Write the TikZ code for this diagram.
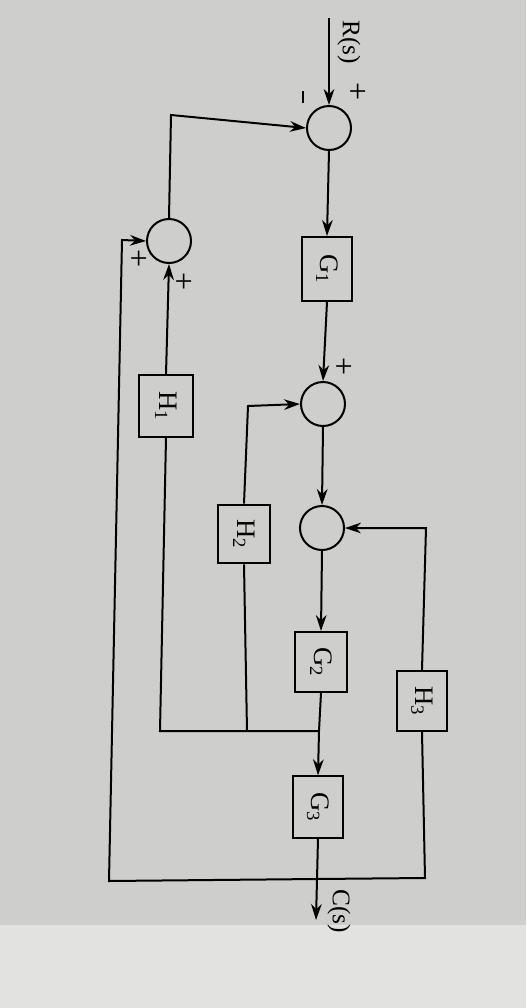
\documentclass[tikz,border=0pt]{standalone}
\usepackage{fontspec}
\setmainfont{Liberation Serif}
\usetikzlibrary{arrows.meta}
\definecolor{paper}{RGB}{206,206,204}
\definecolor{paperlight}{RGB}{226,226,224}
\begin{document}
\begin{tikzpicture}[x=0.75pt,y=-0.75pt,
  line width=1.5pt,
  arr/.style={-{Stealth[length=12pt,width=8pt]}},
  blk/.style={draw, line width=1.5pt, inner sep=0pt, font=\fontsize{20}{20}\selectfont},
  sumj/.style={draw, circle, line width=1.5pt, minimum size=33pt, inner sep=0pt},
  lbl/.style={rotate=-90, inner sep=0pt, font=\fontsize{19}{19}\selectfont},
  sgn/.style={rotate=-90, inner sep=0pt, font=\fontsize{24}{24}\selectfont}]
\fill[paper] (0,0) rectangle (526,1008);
\fill[paperlight] (0,925) rectangle (526,1008);
\useasboundingbox (0,0) rectangle (526,1008);
% summing junctions
\node[sumj] (s1) at (329,128) {};
\node[sumj] (s2) at (169,241) {};
\node[sumj] (s3) at (323,404) {};
\node[sumj] (s4) at (322,528) {};
% blocks
\node[blk, minimum width=37.5pt, minimum height=48pt] (G1) at (327,269) {\rotatebox{-90}{G\textsubscript{1}}};
\node[blk, minimum width=40pt, minimum height=46pt] (H1) at (166,406) {\rotatebox{-90}{H\textsubscript{1}}};
\node[blk, minimum width=39pt, minimum height=44pt] (H2) at (244,534) {\rotatebox{-90}{H\textsubscript{2}}};
\node[blk, minimum width=39pt, minimum height=45pt] (G2) at (321,662) {\rotatebox{-90}{G\textsubscript{2}}};
\node[blk, minimum width=37.5pt, minimum height=45pt] (H3) at (422,701) {\rotatebox{-90}{H\textsubscript{3}}};
\node[blk, minimum width=37.5pt, minimum height=46pt] (G3) at (318,807) {\rotatebox{-90}{G\textsubscript{3}}};
% coordinates
\coordinate (rin) at (329,18);
\coordinate (out) at (316,920);
\coordinate (j) at (319,731);
\coordinate (k) at (317,879);
\coordinate (bl) at (109,881);
\coordinate (tl) at (122,240);
\coordinate (br) at (425,878);
\coordinate (tr) at (426,528);
\coordinate (h1b) at (160,731);
\coordinate (h2b) at (247,731);
\coordinate (h2t) at (248,406);
\coordinate (s2t) at (171,115);
% forward path
\draw[arr] (rin) -- (s1.north);
\draw[arr] (s1.south) -- (G1.north);
\draw[arr] (G1.south) -- (s3.north);
\draw[arr] (s3.south) -- (s4.north);
\draw[arr] (s4.south) -- (G2.north);
\draw[arr] (G2.south) -- (j) -- (G3.north);
\draw[arr] (G3.south) -- (out);
% feedback loops
\draw[arr] (s2.north) -- (s2t) -- (s1.west);
\draw[arr] (k) -- (bl) -- (tl) -- (s2.west);
\draw (k) -- (br) -- (H3.south);
\draw[arr] (H3.north) -- (tr) -- (s4.east);
\draw (j) -- (h1b) -- (H1.south);
\draw[arr] (H1.north) -- (s2.south);
\draw (h2b) -- (H2.south);
\draw[arr] (H2.north) -- (h2t) -- (s3.west);
% labels
\node[lbl] (rlab) at (349,42) {R(s)};
\node[sgn] (p1) at (357,92) {+};
\node[sgn] (m1) at (303,97) {\rule{9pt}{1.3pt}};
\node[sgn] (p2) at (138,259) {+};
\node[sgn] (p3) at (183,282) {+};
\node[sgn] (p4) at (343,367) {+};
\node[lbl] (clab) at (339,911) {C(s)};
\end{tikzpicture}
\end{document}
